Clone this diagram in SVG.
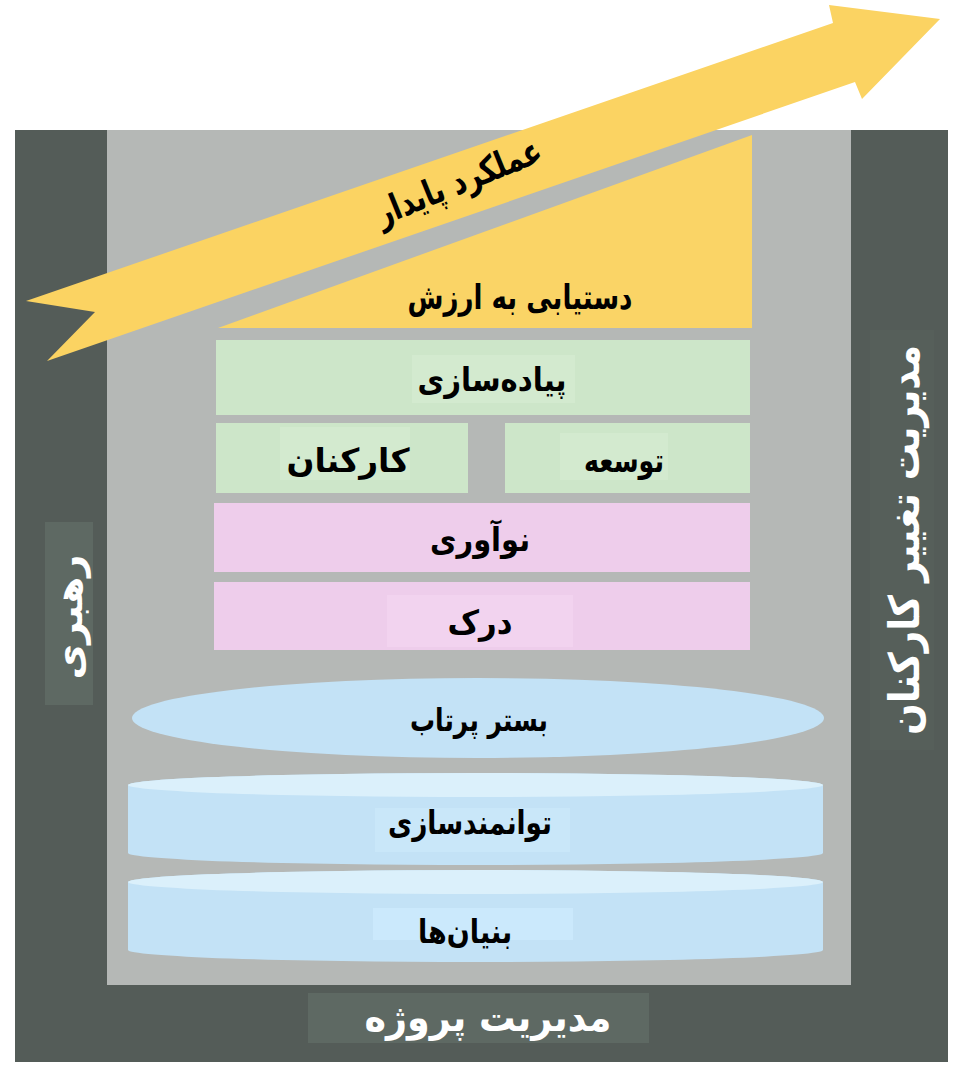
<svg xmlns="http://www.w3.org/2000/svg" width="972" height="1075" viewBox="0 0 972 1075">
<style>
.t{font-family:"DejaVu Sans","Noto Sans",sans-serif;font-weight:bold;text-anchor:middle;fill:#000;}
.w{fill:#fff;}
.green{fill:#cde6c9;}
.gbg{fill:#d3eacf;}
.pink{fill:#eecdeb;}
.blue{fill:#c3e2f6;}
.bluetop{fill:#dbf0fb;}
.lbl{fill:#5e6963;}
</style>
<rect x="0" y="0" width="972" height="1075" fill="#fff"/>
<g id="frame">
<rect x="15" y="130" width="933" height="932" fill="#545c58"/>
<rect x="107" y="130" width="744" height="855" fill="#b5b8b6"/>
</g>
<g id="achieve-value">
<polygon points="218,328 752,328 752,135" fill="#fad466"/>
<text class="t" x="520" y="309" font-size="34" textLength="225" lengthAdjust="spacingAndGlyphs">دستیابی به ارزش</text>
</g>
<g id="arrow">
<polygon points="26,301 833,23 829,5 940,19 862,99 855,82 47,361 95,312" fill="#fbd362"/>
<text class="t" x="0" y="0" font-size="36" textLength="176" lengthAdjust="spacingAndGlyphs" transform="translate(463,193) rotate(-22)">عملکرد پایدار</text>
</g>
<g id="implementation">
<rect x="216" y="340" width="534" height="75" class="green"/>
<rect x="412" y="355" width="163" height="48" class="gbg"/>
<text class="t" x="492" y="391" font-size="33" textLength="149" lengthAdjust="spacingAndGlyphs">پیاده&#8204;سازی</text>
</g>
<g id="staff">
<rect x="216" y="423" width="252" height="70" class="green"/>
<rect x="280" y="427" width="130" height="53" class="gbg"/>
<text class="t" x="348" y="472" font-size="33" textLength="123" lengthAdjust="spacingAndGlyphs">کارکنان</text>
</g>
<g id="development">
<rect x="505" y="423" width="245" height="70" class="green"/>
<rect x="560" y="433" width="108" height="47" class="gbg"/>
<text class="t" x="624" y="472" font-size="33" textLength="80" lengthAdjust="spacingAndGlyphs">توسعه</text>
</g>
<g id="innovation">
<rect x="214" y="503" width="536" height="69" class="pink"/>
<text class="t" x="480" y="551" font-size="33" textLength="100" lengthAdjust="spacingAndGlyphs">نوآوری</text>
</g>
<g id="understanding">
<rect x="214" y="582" width="536" height="68" class="pink"/>
<rect x="387" y="595" width="186" height="52" fill="#f2d3ef"/>
<text class="t" x="480" y="634" font-size="33" textLength="65" lengthAdjust="spacingAndGlyphs">درک</text>
</g>
<g id="launch-bed">
<ellipse cx="478" cy="718" rx="346" ry="40" class="blue"/>
<text class="t" x="479" y="731" font-size="32" textLength="138" lengthAdjust="spacingAndGlyphs">بستر پرتاب</text>
</g>
<g id="empowerment">
<path d="M128,785 A347.5,12 0 0 1 823,785 L823,853 A347.5,12 0 0 1 128,853 Z" class="blue"/>
<ellipse cx="475.5" cy="785" rx="347.5" ry="12" class="bluetop"/>
<rect x="375" y="808" width="195" height="44" fill="#c9e7f9"/>
<text class="t" x="470" y="834" font-size="33" textLength="164" lengthAdjust="spacingAndGlyphs">توانمندسازی</text>
</g>
<g id="foundations">
<path d="M128,882 A347.5,12 0 0 1 823,882 L823,950 A347.5,12 0 0 1 128,950 Z" class="blue"/>
<ellipse cx="475.5" cy="882" rx="347.5" ry="12" class="bluetop"/>
<rect x="373" y="908" width="200" height="32" fill="#cbe9fc"/>
<text class="t" x="465" y="943" font-size="33" textLength="94" lengthAdjust="spacingAndGlyphs">بنیان&#8204;ها</text>
</g>
<g id="leadership">
<rect x="45" y="522" width="48" height="183" class="lbl"/>
<text class="t w" x="0" y="0" font-size="37" textLength="125" lengthAdjust="spacingAndGlyphs" transform="translate(82,617) rotate(-90)">رهبری</text>
</g>
<g id="staff-change-management">
<rect x="870" y="330" width="64" height="420" fill="#565f5a"/>
<text class="t w" x="0" y="0" font-size="42" textLength="390" lengthAdjust="spacingAndGlyphs" transform="translate(919,540) rotate(-90)">مدیریت تغییر کارکنان</text>
</g>
<g id="project-management">
<rect x="308" y="993" width="341" height="50" class="lbl"/>
<text class="t w" x="488" y="1031" font-size="39" textLength="247" lengthAdjust="spacingAndGlyphs">مدیریت پروژه</text>
</g>
<g id="connectors"></g>
</svg>
